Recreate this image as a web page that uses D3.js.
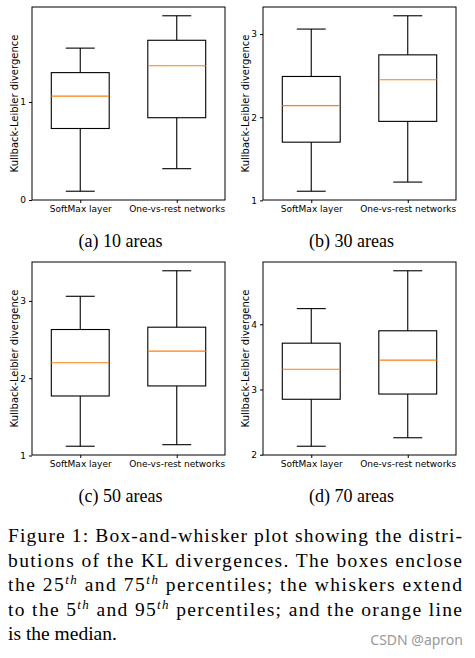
<!DOCTYPE html><html><head><meta charset="utf-8">
<script src="https://cdn.jsdelivr.net/npm/d3@7/dist/d3.min.js"></script>
<style>body{margin:0;background:#fff}</style></head><body>
<script>
const categories=["SoftMax layer","One-vs-rest networks"];
const captions=["(a) 10 areas","(b) 30 areas","(c) 50 areas","(d) 70 areas"];
// [low5, q1, median, q3, high95]
const stats10=[[0.09,0.73,1.06,1.30,1.55],[0.32,0.84,1.37,1.63,1.88]];
const stats30=[[1.11,1.70,2.14,2.49,3.06],[1.22,1.95,2.45,2.75,3.22]];
const stats50=[[1.12,1.77,2.20,2.63,3.06],[1.14,1.90,2.35,2.66,3.39]];
const stats70=[[2.13,2.85,3.31,3.71,4.24],[2.26,2.93,3.45,3.90,4.82]];
const ticks10=[0,1],ticks30=[1,2,3],ticks50=[1,2,3],ticks70=[2,3,4];
const panels=[
 {s:stats10,t:ticks10,x:32,y:7},
 {s:stats30,t:ticks30,x:263,y:7},
 {s:stats50,t:ticks50,x:32,y:262},
 {s:stats70,t:ticks70,x:263,y:262}];
const W=193,H=193;
const svg=d3.select("body").append("svg").attr("width",475).attr("height",658);
panels.forEach((p,i)=>{
 const g=svg.append("g").attr("transform",`translate(${p.x},${p.y})`);
 const lo=d3.min(p.s,d=>d[0]),hi=d3.max(p.s,d=>d[4]),m=(hi-lo)*0.05;
 const y=d3.scaleLinear().domain([lo-m,hi+m]).range([H,0]);
 const x=d3.scaleLinear().domain([0.5,2.5]).range([0,W]);
 const bw=x(1.3)-x(1),cw=x(1.15)-x(1);
 p.s.forEach((d,j)=>{
  const cx=x(j+1);
  const b=g.append("g").attr("stroke","#000").attr("stroke-width",1.1).attr("fill","none");
  b.append("line").attr("x1",cx).attr("x2",cx).attr("y1",y(d[0])).attr("y2",y(d[1]));
  b.append("line").attr("x1",cx).attr("x2",cx).attr("y1",y(d[3])).attr("y2",y(d[4]));
  b.append("line").attr("x1",cx-cw).attr("x2",cx+cw).attr("y1",y(d[0])).attr("y2",y(d[0]));
  b.append("line").attr("x1",cx-cw).attr("x2",cx+cw).attr("y1",y(d[4])).attr("y2",y(d[4]));
  b.append("rect").attr("x",cx-bw).attr("width",2*bw).attr("y",y(d[3])).attr("height",y(d[1])-y(d[3]));
  g.append("line").attr("x1",cx-bw).attr("x2",cx+bw).attr("y1",y(d[2])).attr("y2",y(d[2])).attr("stroke","#ff7f0e").attr("stroke-width",1.1);
 });
 const ya=g.append("g").call(d3.axisLeft(y).tickValues(p.t).tickFormat(d3.format("d")).tickSize(3).tickPadding(3));
 const xa=g.append("g").attr("transform",`translate(0,${H})`).call(d3.axisBottom(x).tickValues([1,2]).tickFormat(d=>categories[d-1]).tickSize(3).tickPadding(3));
 [ya,xa].forEach(a=>{a.select(".domain").remove();a.selectAll("text").attr("font-family","DejaVu Sans").attr("font-size",9).attr("fill","#000");});
 g.append("rect").attr("width",W).attr("height",H).attr("fill","none").attr("stroke","#000").attr("stroke-width",1);
 g.append("text").attr("transform",`translate(-14,${H/2}) rotate(-90)`).attr("text-anchor","middle")
  .attr("font-family","DejaVu Sans").attr("font-size",10).text("Kullback-Leibler divergence");
 g.append("text").attr("x",W/2-8).attr("y",H+47).attr("text-anchor","middle")
  .attr("font-family","Liberation Serif").attr("font-size",18).text(captions[i]);
});
const lines=[
 [["Figure 1: Box-and-whisker plot showing the distri-"]],
 [["butions of the KL divergences. The boxes enclose"]],
 [["the 25"],["th",1],[" and 75"],["th",1],[" percentiles; the whiskers extend"]],
 [["to the 5"],["th",1],[" and 95"],["th",1],[" percentiles; and the orange line"]],
 [["is the median."]]];
lines.forEach((ln,k)=>{
 const t=svg.append("text").attr("x",8).attr("y",542+k*24.5).attr("font-family","Liberation Serif").attr("font-size",19.5).attr("fill","#000");
 if(k<4) t.attr("textLength",454).attr("lengthAdjust","spacing");
 let prevSup=false;
 ln.forEach(([s,sup])=>{
  const ts=t.append("tspan").text(s);
  if(sup) ts.attr("font-style","italic").attr("font-size",13).attr("dy",-7);
  else if(prevSup) ts.attr("dy",7);
  prevSup=!!sup;
 });
});
svg.append("text").attr("x",463).attr("y",645).attr("text-anchor","end").attr("font-family","Noto Sans").attr("font-size",14).attr("fill","#999").text("CSDN @apron");
</script></body></html>
